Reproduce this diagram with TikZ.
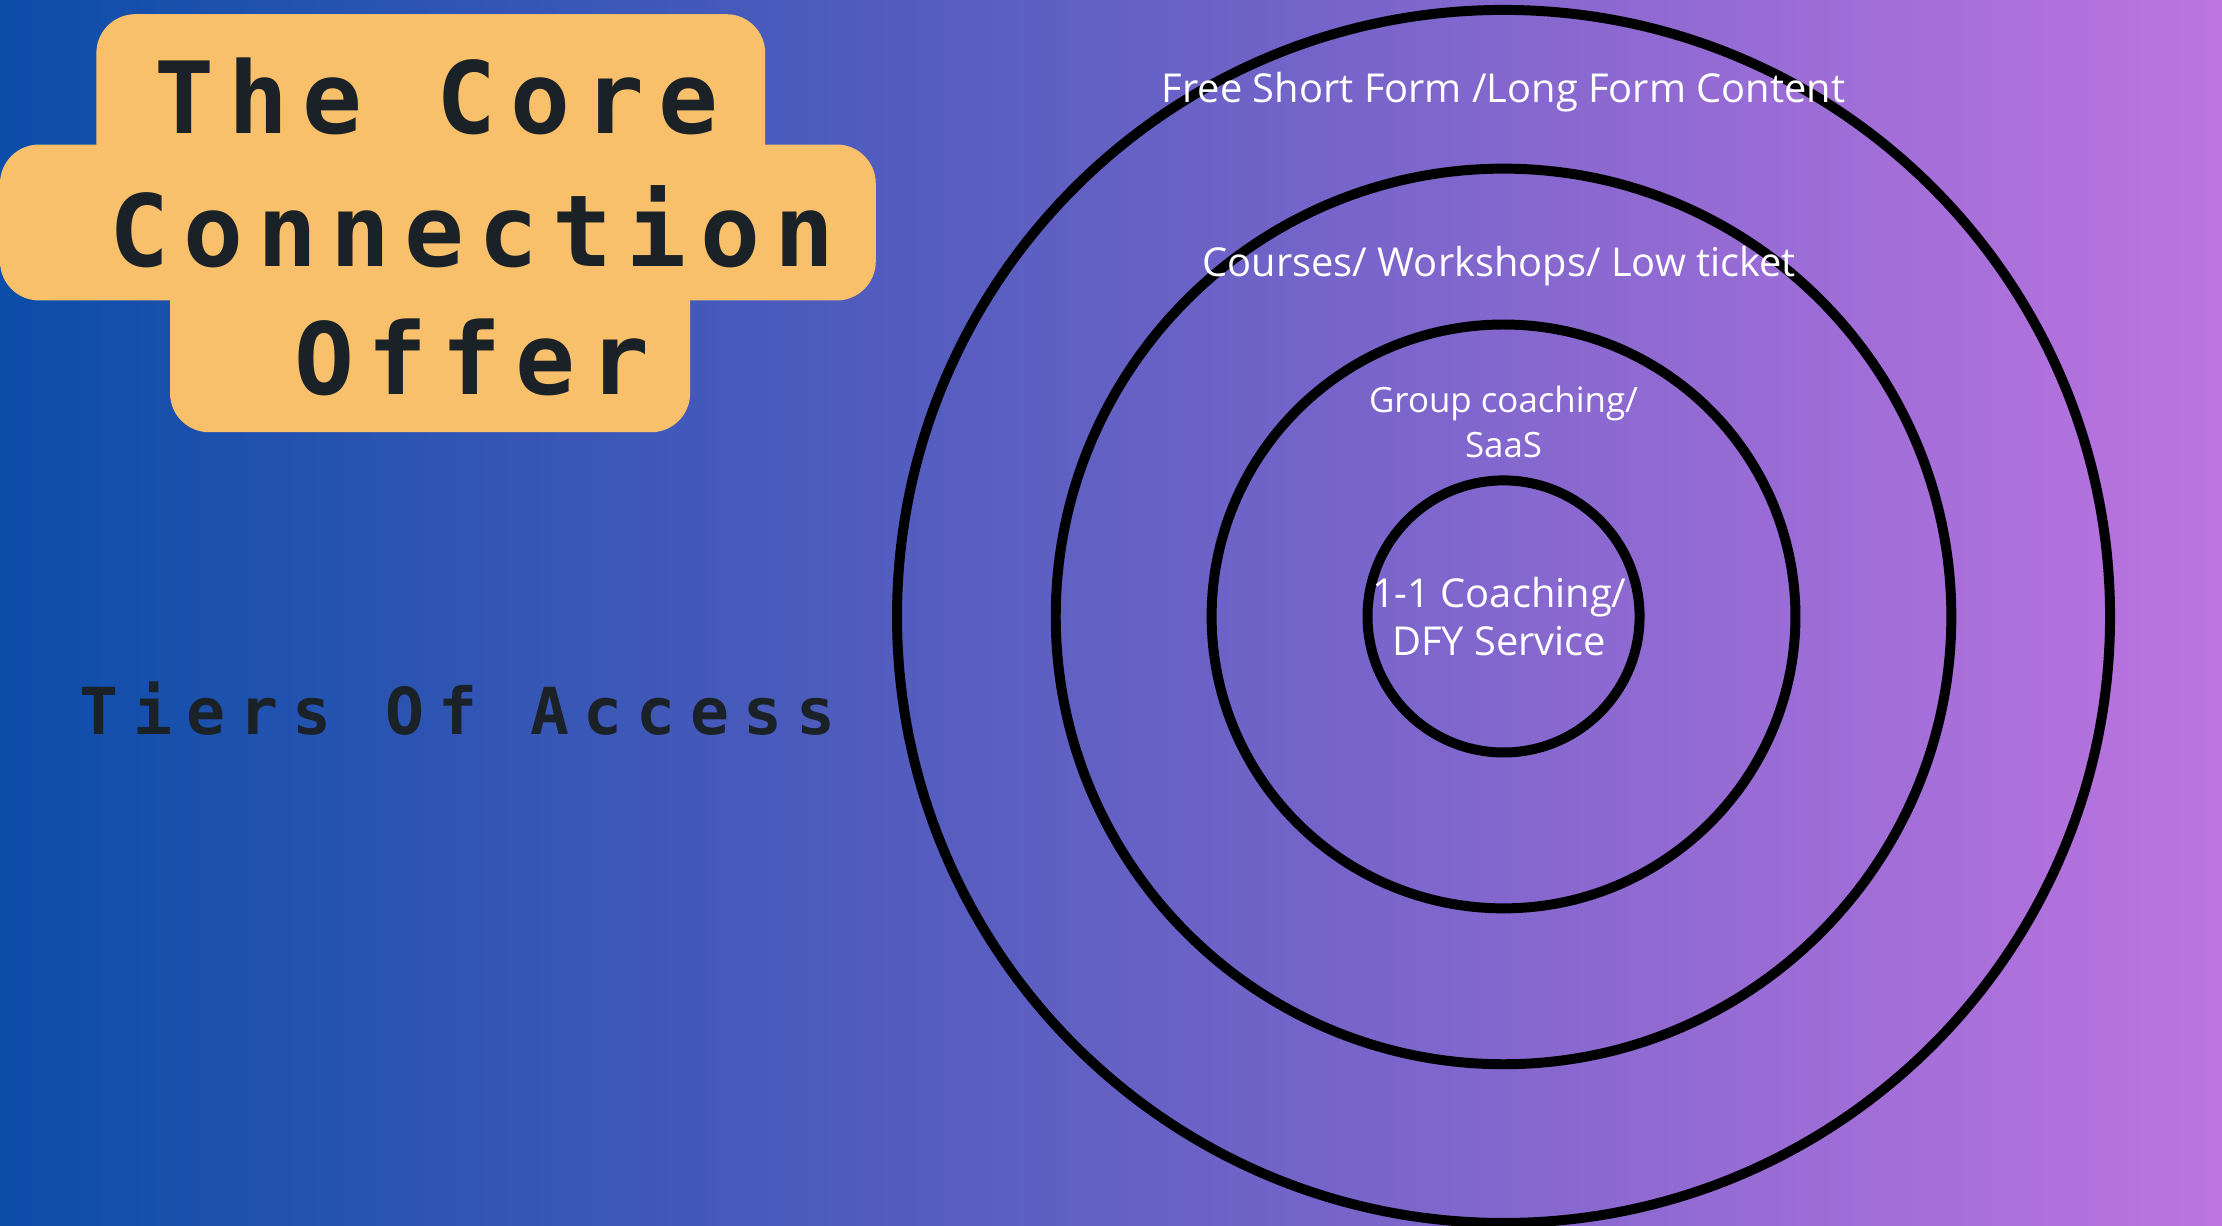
\documentclass[tikz,border=0pt]{standalone}
\usepackage{fontspec}
\setmainfont{Open Sans}
\newfontfamily\titlefont{DejaVu Sans Mono}[LetterSpace=14]
\newfontfamily\tierfont{DejaVu Sans Mono}[LetterSpace=22]
\definecolor{bgL}{HTML}{0B4DA8}
\definecolor{bgR}{HTML}{BD74E0}
\definecolor{tag}{HTML}{F9C06B}
\definecolor{ink}{HTML}{1A2127}
\tikzset{
 ring/.style={draw=black,line width=4pt},
 lbl/.style={text=white,font=\fontsize{16}{19}\selectfont,align=center},
 lbls/.style={text=white,font=\fontsize{14}{18}\selectfont,align=center},
 tagbox/.style={fill=tag,rounded corners=0.55cm,draw=none},
 ttl/.style={text=ink,font=\titlefont\bfseries\fontsize{40}{40}\selectfont}
}
\begin{document}
\begin{tikzpicture}[x=0.02cm,y=-0.02cm]
\shade[left color=bgL,right color=bgR] (0,0) rectangle (1568,865);
\useasboundingbox (0,0) rectangle (1568,865);
\fill[tagbox] (68,10) rectangle (540,160);
\fill[tagbox] (0,102) rectangle (618,212);
\fill[tagbox] (120,170) rectangle (487,305);
\node[ttl] (t1) at (308,68) {The Core};
\node[ttl] (t2) at (333,160) {Connection};
\node[ttl] (t3) at (333,252) {Offer};
\node[text=ink,font=\tierfont\bfseries\fontsize{26}{26}\selectfont] (tiers) at (323,500) {Tiers Of Access};
\node[ring,circle,minimum size=856*0.02cm] (c1) at (1061,435) {};
\node[ring,circle,minimum size=632*0.02cm] (c2) at (1061,435) {};
\node[ring,circle,minimum size=412*0.02cm] (c3) at (1061,435) {};
\node[ring,circle,minimum size=192*0.02cm] (c4) at (1061,435) {};
\node[lbl] (l1) at (1061,65) {Free Short Form /Long Form Content};
\node[lbl] (l2) at (1058,188) {Courses/ Workshops/ Low ticket};
\node[lbls] (l3) at (1061,298) {Group coaching/\\SaaS};
\node[lbl] (l4) at (1058,435) {1-1 Coaching/\\DFY Service};
\end{tikzpicture}
\end{document}
